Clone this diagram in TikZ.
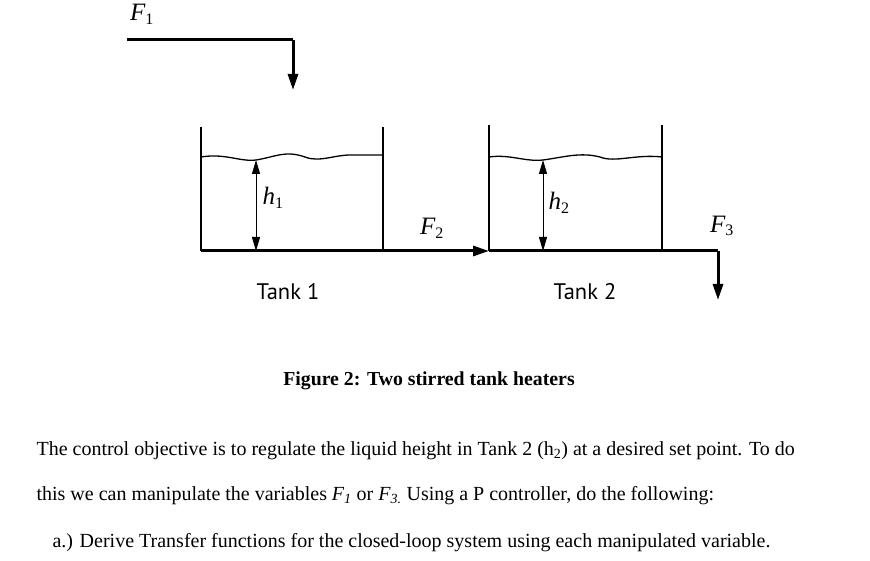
\documentclass[tikz,border=0pt]{standalone}
\usepackage{fontspec}
\setmainfont{Liberation Serif}
\newfontfamily\lab{PT Sans}
\usetikzlibrary{arrows.meta}
\begin{document}
\begin{tikzpicture}[x=1pt,y=-1pt,
  pipe/.style={line width=3pt},
  wall/.style={line width=2pt},
  flow/.style={-{Triangle[length=16pt,width=10pt]}},
  hh/.style={line width=1pt,{Triangle[length=14pt,width=8pt]}-{Triangle[length=14pt,width=8pt]}},
  lbl/.style={font=\fontsize{25}{27}\selectfont\itshape},
  sub/.style={font=\fontsize{17}{19}\selectfont},
  tank/.style={font=\lab\fontsize{22.5}{24}\selectfont},
  txt/.style={anchor=west,font=\fontsize{20}{22}\selectfont}]
\useasboundingbox (0,0) rectangle (870,561);
\fill[white] (0,0) rectangle (870,561);
% F1 inlet
\coordinate (f1s) at (127,40);
\coordinate (f1c) at (293,40);
\coordinate (f1e) at (293,90);
\draw[pipe] (f1s) -- (f1c);
\draw[pipe,flow] (f1c) -- (f1e);
\node[lbl] (F1) at (142,14) {F\textsubscript{\fontsize{16}{16}\selectfont\upshape 1}};
% tanks
\draw[wall] (201,127) -- (201,251);
\draw[wall] (383,127) -- (383,251);
\draw[wall] (489,125) -- (489,251);
\draw[wall] (662,125) -- (662,251);
% liquid surfaces
\draw[line width=1.3pt] (201,157) .. controls (225,153) and (240,162) .. (256,160) .. controls (275,157) and (285,150) .. (305,157) .. controls (320,163) and (335,154) .. (355,155) -- (383,155);
\draw[line width=1.3pt] (489,157) .. controls (510,154) and (525,162) .. (543,160) .. controls (565,157) and (580,152) .. (600,157) .. controls (615,163) and (635,154) .. (662,157);
% heights
\coordinate (h1t) at (256,160); \coordinate (h1b) at (256,251);
\coordinate (h2t) at (543,160); \coordinate (h2b) at (543,251);
\draw[hh] (h1t) -- (h1b);
\draw[hh] (h2t) -- (h2b);
\node[lbl] (h1) at (273,198) {h\textsubscript{\fontsize{16}{16}\selectfont\upshape 1}};
\node[lbl] (h2) at (559,203) {h\textsubscript{\fontsize{16}{16}\selectfont\upshape 2}};
% bottom pipes
\coordinate (b1) at (201,251);
\coordinate (b2) at (489,251);
\coordinate (b3) at (718,251);
\coordinate (b4) at (718,300);
\draw[pipe,flow] (b1) -- (b2);
\draw[pipe] (b2) -- (b3);
\draw[pipe,flow] (b3) -- (b4);
\node[lbl] (F2) at (432,228) {F\textsubscript{\fontsize{16}{16}\selectfont\upshape 2}};
\node[lbl] (F3) at (722,226) {F\textsubscript{\fontsize{16}{16}\selectfont\upshape 3}};
\node[tank] (T1) at (288,292) {Tank 1};
\node[tank] (T2) at (585,292) {Tank 2};
% caption and text
\node[font=\bfseries\fontsize{19.8}{22}\selectfont] (cap) at (429,381) {Figure 2: Two stirred tank heaters};
\node[txt] (p1) at (33,451) {The control objective is to regulate the liquid height in Tank 2 (h\textsubscript{2}) at a desired set point. To do};
\node[txt] (p2) at (33,496) {this we can manipulate the variables \textit{F\textsubscript{1}} or \textit{F\textsubscript{3.}} Using a P controller, do the following:};
\node[txt] (p3) at (49,543) {a.) Derive Transfer functions for the closed-loop system using each manipulated variable.};
\end{tikzpicture}
\end{document}
